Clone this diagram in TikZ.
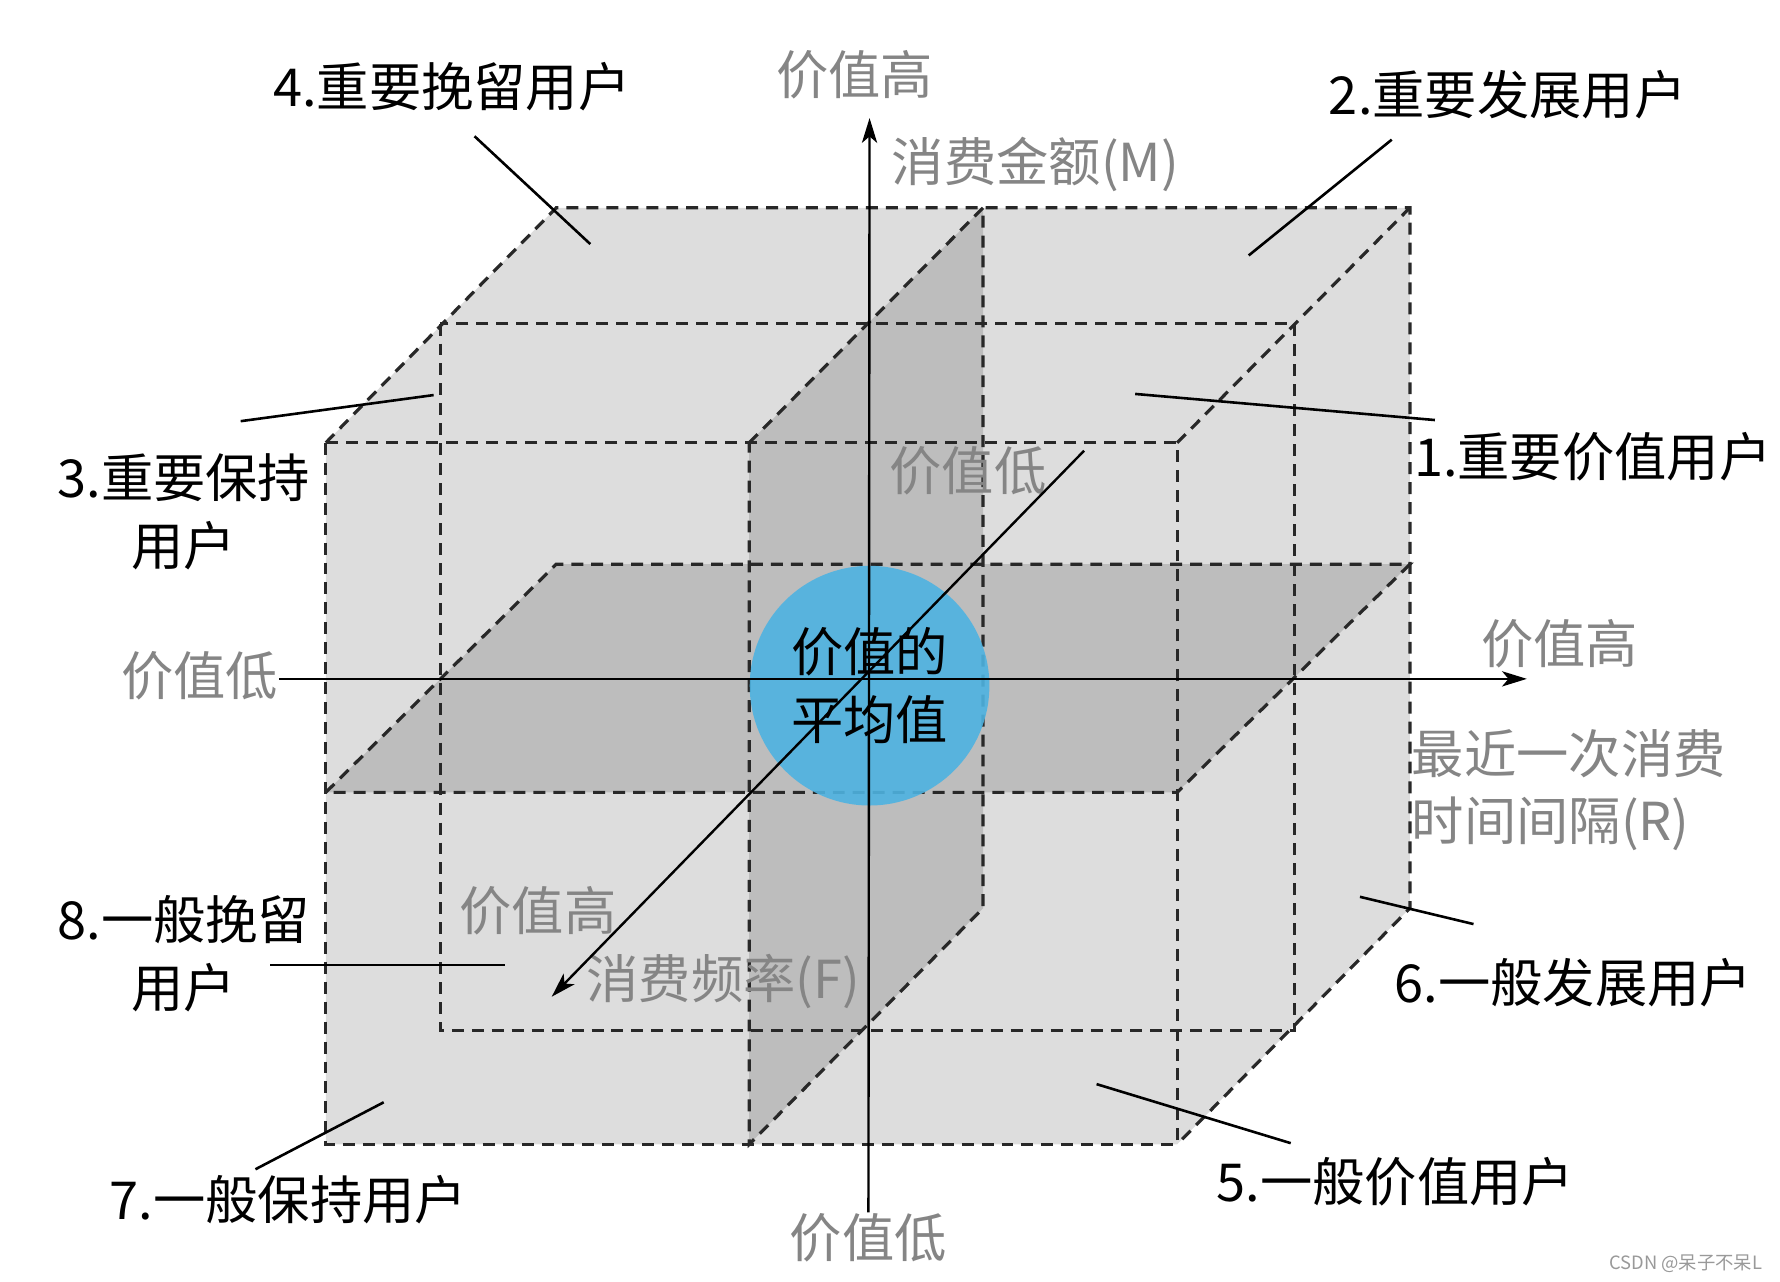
\documentclass[tikz,border=0pt]{standalone}
\usepackage{fontspec}
\setmainfont{Noto Sans CJK SC}
\usetikzlibrary{arrows.meta}

\definecolor{cubelight}{RGB}{221,221,221}
\definecolor{planedark}{RGB}{189,189,189}
\definecolor{avgblue}{RGB}{78,179,225}
\definecolor{axisgray}{RGB}{133,133,133}
\definecolor{edgegray}{RGB}{40,40,40}

\begin{document}
\begin{tikzpicture}[x=0.01cm, y=-0.01cm]
	\tikzstyle{cubeedge}=[edgegray, line width=0.8pt, dash pattern=on 3pt off 2pt];
	\tikzstyle{userlabel}=[inner sep=0, font=\fontsize{13.1}{17}\selectfont, align=center];
	\tikzstyle{axislabel}=[inner sep=0, text=axisgray, font=\fontsize{13.1}{17}\selectfont];
	\tikzstyle{axisline}=[line width=0.6pt, -{Stealth[length=6.2pt, width=3.8pt, inset=1.6pt]}];
	\tikzstyle{leader}=[line width=0.65pt];

	\useasboundingbox (0, 0) rectangle (1568, 1129);

	% cube corners: front, back, middle depth
	\coordinate (F1) at (287, 390);  \coordinate (F2) at (1037, 390);
	\coordinate (F3) at (1037, 1008); \coordinate (F4) at (287, 1008);
	\coordinate (B1) at (490, 183);  \coordinate (B2) at (1242, 183);
	\coordinate (B3) at (1242, 800);
	\coordinate (M1) at (388, 285);  \coordinate (M3) at (1140, 908);
	% the two middle planes
	\coordinate (V1) at (660, 390);  \coordinate (V2) at (866, 183);
	\coordinate (V3) at (866, 800);  \coordinate (V4) at (660, 1008);
	\coordinate (H1) at (287, 698);  \coordinate (H2) at (490, 497);
	\coordinate (H3) at (1242, 497); \coordinate (H4) at (1037, 698);

	\fill[cubelight] (F4) -- (F1) -- (B1) -- (B2) -- (B3) -- (F3) -- cycle;
	\fill[planedark] (V1) -- (V2) -- (V3) -- (V4) -- cycle;
	\fill[planedark] (H1) -- (H2) -- (H3) -- (H4) -- cycle;

	\draw[cubeedge] (F1) rectangle (F3);
	\draw[cubeedge] (M1) rectangle (M3);
	\draw[cubeedge] (F1) -- (B1) -- (B2) -- (B3) -- (F3);
	\draw[cubeedge] (F2) -- (B2);
	\draw[cubeedge] (V1) -- (V2) -- (V3) -- (V4) -- cycle;
	\draw[cubeedge] (H1) -- (H2) -- (H3) -- (H4) -- cycle;

	% axis labels
	\node[axislabel, anchor=west] (mhigh) at (683, 66) {价值高};
	\node[axislabel, anchor=west] (mname) at (785, 145) {消费金额(M)};
	\node[axislabel, anchor=west] (flow) at (783, 415) {价值低};
	\node[axislabel, anchor=west] (rlow) at (106, 595) {价值低};
	\node[axislabel, anchor=west] (rhigh) at (1304, 567) {价值高};
	\node[axislabel, anchor=west, align=left] (rname) at (1243, 696) {最近一次消费\\时间间隔(R)};
	\node[axislabel, anchor=west] (fhigh) at (404, 802) {价值高};
	\node[axislabel, anchor=west] (fname) at (516, 865) {消费频率(F)};
	\node[axislabel] (mlow) at (765, 1090) {价值低};

	\node[circle, fill=avgblue, fill opacity=0.9, text opacity=1, minimum size=2.11cm, inner sep=0,
	      font=\fontsize{13.1}{17}\selectfont, align=center] (avg) at (766, 604) {价值的\\平均值};

	% axes
	\coordinate (mtop) at (766, 104);
	\coordinate (rend) at (1345, 598);
	\coordinate (fstart) at (955, 397);
	\coordinate (fend) at (486, 878);
	\draw[axisline] (mlow.north) -- (mtop);
	\draw[axisline] (rlow.east |- rend) -- (rend);
	\draw[axisline] (fstart) -- (fend);

	% user groups
	\node[userlabel, anchor=west] (u4) at (240, 76) {4.重要挽留用户};
	\node[userlabel, anchor=west] (u2) at (1170, 83) {2.重要发展用户};
	\node[userlabel, anchor=west] (u1) at (1245, 402) {1.重要价值用户};
	\node[userlabel] (u3) at (162, 451) {3.重要保持\\用户};
	\node[userlabel] (u8) at (162, 840) {8.一般挽留\\用户};
	\node[userlabel, anchor=west] (u7) at (96, 1057) {7.一般保持用户};
	\node[userlabel, anchor=west] (u6) at (1228, 866) {6.一般发展用户};
	\node[userlabel, anchor=west] (u5) at (1071, 1041) {5.一般价值用户};

	% leader lines
	\coordinate (a4) at (418, 120);  \coordinate (b4) at (520, 215);
	\coordinate (a2) at (1226, 123); \coordinate (b2) at (1100, 225);
	\coordinate (a3) at (212, 371);  \coordinate (b3) at (382, 348);
	\coordinate (a1) at (1264, 370); \coordinate (b1) at (1000, 347);
	\coordinate (a8) at (238, 850);  \coordinate (b8) at (445, 850);
	\coordinate (a7) at (225, 1030); \coordinate (b7) at (338, 971);
	\coordinate (a6) at (1298, 814); \coordinate (b6) at (1198, 790);
	\coordinate (a5) at (1137, 1007); \coordinate (b5) at (966, 955);
	\foreach \i in {1,...,8}
		\draw[leader] (a\i) -- (b\i);

	\node[inner sep=0, anchor=east, text=gray!80, font=\fontsize{4.6}{5}\selectfont] (mark) at (1553, 1113) {CSDN @呆子不呆L};
\end{tikzpicture}
\end{document}
